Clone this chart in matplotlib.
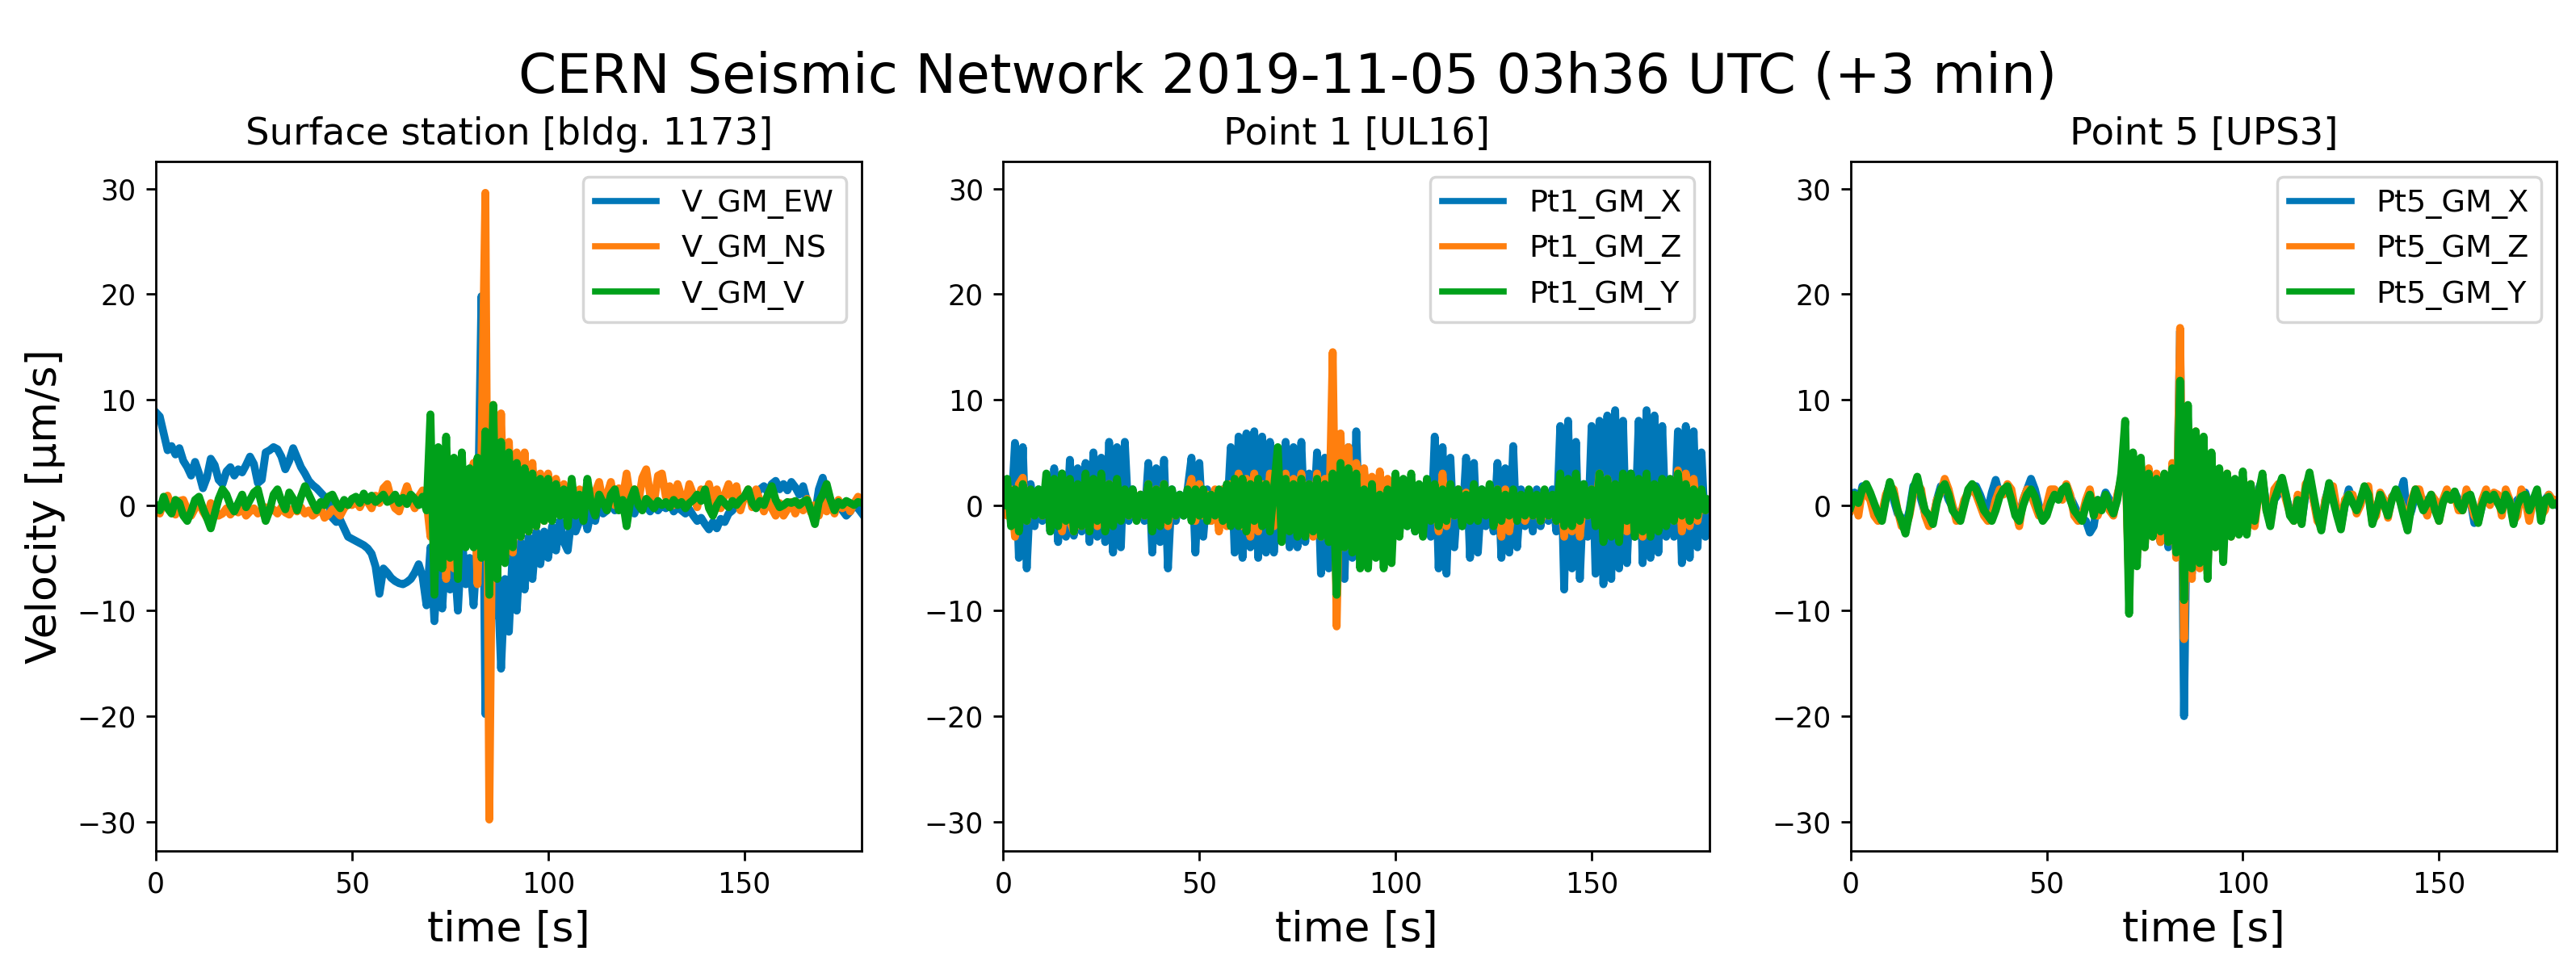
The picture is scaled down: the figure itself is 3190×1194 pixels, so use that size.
from matplotlib import pyplot as plt
from matplotlib.ticker import MultipleLocator
import numpy as np

# velocity samples [um/s], one value per second from t=0 to t=180 s
surf_ew = [
    8.8, 8.4, 6.8, 5.2, 5.6, 4.8, 5.4, 4.2, 3.6, 2.8,
    4.1, 3.0, 1.6, 2.6, 4.4, 3.8, 2.4, 2.0, 3.2, 3.6,
    2.8, 3.4, 3.1, 3.8, 4.6, 3.9, 2.1, 2.4, 5.0, 5.2,
    5.5, 5.3, 4.6, 3.4, 4.2, 5.4, 4.5, 3.6, 3.0, 2.3,
    1.9, 1.6, 1.2, 0.8, 0.2, -1.2, -1.6, -1.4, -2.2, -3.0,
    -3.2, -3.4, -3.6, -3.8, -4.1, -4.6, -5.8, -8.4, -6.0, -6.4,
    -6.9, -7.2, -7.4, -7.5, -7.3, -7.0, -6.4, -5.6, -6.8, -9.5,
    -4.0, -11.0, -5.0, -9.8, -3.5, -8.0, -4.5, -10.0, -3.0, -7.5,
    -5.0, -9.5, -3.5, 19.8, -19.8, 8.0, -10.5, -6.0, -15.5, -7.0,
    -12.0, -4.0, -10.0, -3.5, -8.0, -3.0, -7.0, -2.5, -5.6, -2.5,
    -5.0, -2.0, -4.3, -1.5, -3.5, -4.3, -1.0, -2.5, -1.5, -0.5,
    -2.3, -0.5, -1.5, 0.5, -0.8, -0.5, 0.3, -0.5, -0.3, 0.2,
    -0.5, 0.0, -0.8, 0.2, -0.4, 0.0, -0.6, 0.1, -0.5, 0.0,
    -0.3, 0.2, -0.6, -0.2, -0.5, -0.8, -0.4, -1.0, -1.5, -1.2,
    -1.8, -2.3, -1.6, -2.2, -1.3, -1.6, -0.8, -0.5, 0.2, 0.6,
    0.8, 1.2, 0.6, 1.0, 1.5, 1.8, 1.2, 2.0, 2.3, 1.5,
    2.0, 1.4, 2.2, 1.7, 1.0, 1.8, 0.4, -0.5, -1.0, 1.5,
    2.6, 1.0, 0.5, -0.2, 0.3, -0.5, -1.0, -0.6, 0.0, -0.3,
    -0.8]

surf_ns = [
    -0.5, -0.8, 0.3, 0.9, -0.2, -0.9, 0.4, 0.5, -0.4, -1.0,
    -0.3, 0.4, -0.6, -1.2, 0.2, -0.5, -1.0, -0.8, -0.3, -0.9,
    -0.4, -0.7, -0.2, -1.0, -0.6, -0.3, -0.8, -0.5, -0.2, -0.6,
    -0.4, -0.8, -0.2, -0.7, -0.9, -0.3, -0.6, -0.2, -0.8, -0.5,
    -1.0, -0.7, -0.2, -1.2, -0.9, -0.4, -0.6, -1.0, -0.3, 0.2,
    0.0, 0.4, -0.2, 0.6, 0.3, -0.3, 0.9, 0.2, 1.6, 2.0,
    0.6, -0.3, -0.6, 0.7, 1.8, 0.6, -0.3, 0.8, 1.4, 0.4,
    -3.0, 4.5, -5.0, 3.0, -7.0, 2.0, -6.0, 4.0, -2.0, 3.0,
    -3.0, 4.0, -7.5, 5.0, 29.6, -29.8, 9.5, -6.0, 8.7, -5.0,
    6.0, -4.5, 5.0, -3.0, 5.0, -2.5, 4.0, -2.0, 3.0, -1.5,
    3.0, -1.0, 2.5, 0.0, 2.0, 0.5, 1.8, -0.3, 1.5, 0.5,
    2.0, 0.3, 1.2, 2.2, 0.2, 1.0, 2.2, 0.0, 1.6, 0.6,
    3.0, 0.5, 1.5, 0.2, 2.6, 3.4, 1.0, 0.3, 2.8, 3.0,
    0.8, 1.8, 0.0, 2.0, 0.8, 0.2, 2.0, 1.0, -0.2, 1.5,
    0.6, 2.0, 0.2, 1.5, -0.3, 1.0, 2.0, 0.5, 1.8, -0.5,
    0.8, 1.5, -0.2, 1.5, 0.4, -0.6, 0.5, -0.3, -1.0, 0.2,
    -1.0, -0.4, 0.3, -0.8, 0.2, -0.5, 0.6, -0.7, 0.0, -1.0,
    0.4, -0.6, 0.2, -0.8, 0.5, -0.3, 0.3, -0.6, 0.2, 0.8,
    0.5]

surf_v = [
    0.0, -0.5, 0.8, -0.3, -0.8, 0.5, 0.2, -1.0, -1.5, -0.6,
    0.5, 0.8, -0.3, -1.2, -2.2, -0.8, 0.6, 1.5, 1.0, 0.0,
    -0.6, 0.2, 1.0, -0.2, 0.5, 1.2, 1.5, 0.0, -1.5, -0.5,
    1.0, 1.5, 0.4, -0.4, 1.2, 0.6, -0.5, 0.8, 1.8, 1.0,
    0.2, -0.5, 0.3, 0.0, 0.8, 1.0, 0.2, -0.3, 0.5, 0.0,
    0.6, 0.8, 0.2, 1.1, 0.4, 0.9, 0.3, 0.6, 1.0, 0.3,
    0.5, 1.0, 0.2, 0.7, 0.1, 1.0, 0.6, 0.0, 0.8, -0.5,
    8.6, -8.5, 5.5, -6.0, 6.5, -5.0, 4.5, -7.0, 5.0, -4.0,
    3.5, -4.0, 4.5, -5.0, 7.0, -8.5, 9.5, -7.0, 6.0, -5.5,
    5.0, -4.0, 4.0, -3.0, 3.5, -2.5, 3.0, -2.0, 2.5, -1.5,
    2.5, -1.5, 2.0, -1.0, 1.5, -2.0, 2.5, -1.0, 1.0, -1.5,
    2.5, 0.0, -1.0, 1.0, 0.2, -0.5, 1.0, 1.5, -0.5, 0.5,
    -2.0, 0.5, 1.5, 0.0, -0.5, 0.6, 0.2, -0.3, 0.4, 0.0,
    0.3, -0.2, 0.5, 0.0, 0.3, -0.3, 0.2, 0.5, 1.0, 0.4,
    1.5, -0.3, -1.0, 0.0, 0.6, 0.2, -0.2, 0.4, 0.0, 0.5,
    0.8, 1.5, 0.2, -0.3, 0.4, 0.0, 1.0, 1.8, 0.5, -0.2,
    0.0, 0.3, 0.2, 0.4, 0.0, 0.3, 0.5, -0.5, -1.8, 0.3,
    1.0, 2.0, 0.5, -0.5, 0.3, 0.0, 0.4, 0.2, 0.0, 0.3,
    0.2]

pt1_x = [
    -0.5, 1.0, -1.0, 5.9, -5.0, 5.5, -6.0, 2.0, -2.0, 1.5,
    -1.5, 2.0, -2.5, 3.5, -3.5, 3.0, -3.0, 4.3, -2.9, 3.5,
    -2.5, 4.0, -3.5, 5.0, -3.0, 4.5, -3.5, 6.0, -4.5, 5.5,
    -4.0, 6.0, -1.5, 1.5, -1.0, 1.0, -1.5, 4.0, -4.5, 3.5,
    -3.5, 4.3, -6.0, 1.5, -1.5, 1.0, -1.0, 1.5, 4.5, -4.5,
    4.0, -3.0, 1.5, -1.5, 1.0, -1.0, 1.5, -1.5, 5.5, -4.5,
    6.5, -5.0, 6.8, -4.0, 7.0, -5.0, 6.5, -4.5, 6.0, -4.5,
    2.0, -2.0, 6.0, -4.0, 5.5, -4.0, 6.0, -3.5, 3.0, -2.0,
    5.0, -6.5, 4.5, -6.0, 7.5, -5.5, 6.0, -7.0, 5.5, -5.0,
    7.0, -4.0, 3.0, -3.0, 2.0, -2.5, 1.5, -2.0, 1.0, -3.0,
    1.0, -2.5, 1.5, -2.0, 1.0, -2.5, 1.5, -1.5, 2.0, -3.0,
    6.5, -6.0, 5.5, -6.5, 4.5, -4.0, 1.5, -2.0, 4.5, -5.0,
    4.0, -4.5, 1.5, -2.0, 1.0, -2.5, 4.0, -5.0, 3.5, -4.5,
    5.6, -4.0, 1.5, -2.0, 1.0, -2.5, 1.5, -2.0, 1.0, -1.5,
    1.5, -2.5, 7.5, -8.0, 8.0, -6.0, 6.0, -7.0, 2.0, -3.0,
    7.5, -6.5, 8.0, -7.5, 8.5, -7.0, 9.0, -6.0, 8.0, -5.5,
    3.0, -3.0, 8.0, -5.5, 9.0, -5.0, 8.5, -4.5, 7.5, -3.0,
    1.5, -3.0, 7.0, -5.5, 7.5, -5.0, 7.0, -4.0, 5.0, -3.0,
    0.0]

pt1_z = [
    0.5, -1.0, 1.5, -3.0, 2.0, 2.6, -1.5, 0.5, -0.5, 1.0,
    -1.0, 0.5, 2.0, -1.5, 1.5, -2.5, 0.5, -1.5, -2.5, -1.0,
    -2.0, -0.5, -1.8, 1.0, -2.0, 1.5, -0.5, 2.0, -1.0, 1.5,
    -0.5, 1.0, -1.0, 0.5, -0.8, 1.0, -1.0, 2.0, -2.0, 1.5,
    -1.5, 2.0, -2.0, 1.0, -1.0, 0.5, -0.5, 1.0, 2.5, -1.5,
    2.0, -1.0, 1.0, -1.5, 1.5, -2.5, 1.5, -2.0, 2.0, -1.5,
    3.0, -2.0, 2.5, -3.0, 3.0, -2.5, 2.0, -1.5, 3.0, -2.0,
    3.0, -2.5, 3.0, -1.5, 2.5, -2.0, 3.0, -2.5, 2.0, -3.0,
    3.0, -3.0, 2.5, -3.0, 14.5, -11.5, 6.8, -4.0, 5.5, -3.5,
    4.0, -2.0, 3.5, -1.0, 2.7, -1.5, 3.2, -1.0, 2.5, -0.5,
    2.0, -0.5, 1.0, -0.5, 1.0, 0.0, -0.5, 1.0, 0.5, -1.0,
    1.5, -2.5, 3.0, -2.0, 1.5, -1.0, 1.5, 0.0, 1.2, -0.5,
    1.0, -1.0, 1.0, -0.5, 0.5, -1.0, 1.5, -3.0, 1.5, -2.5,
    0.5, -1.0, 0.0, -1.5, -0.5, -1.0, 0.0, -1.5, -0.5, -1.0,
    0.5, -1.5, 2.0, -3.0, 1.5, -2.5, 2.0, -3.0, 1.0, -1.0,
    1.5, -0.5, 3.0, -1.0, 2.5, -1.5, 0.5, -3.0, -0.5, -2.5,
    0.5, -1.0, 1.0, -3.0, 0.5, -2.5, 1.0, -2.0, 0.5, -1.0,
    1.5, -1.5, 3.3, -2.5, 3.0, -2.0, 2.5, -1.5, 1.0, -0.5,
    0.0]

pt1_y = [
    0.0, 2.5, -2.0, 1.5, -2.5, 2.0, -1.5, 1.5, -1.0, 1.5,
    -1.0, 3.0, -2.5, 2.5, -2.0, 3.0, -1.5, 2.5, -2.5, 2.0,
    -2.0, 3.0, -2.5, 2.5, -1.5, 3.0, -2.5, 2.0, -2.0, 2.5,
    -1.5, 1.5, -1.0, 1.5, -1.5, 1.0, -1.0, 2.0, -2.5, 1.5,
    -2.0, 2.0, -1.5, 1.5, -1.0, 1.0, -1.0, 1.5, -1.5, 1.5,
    -1.0, 1.5, -1.5, 1.0, -1.0, 1.5, -1.5, 2.0, -2.0, 2.5,
    -2.0, 2.5, -2.5, 2.0, -1.5, 2.5, -2.0, 2.0, -2.5, 1.5,
    5.5, -3.5, 2.5, -2.5, 2.0, -3.0, 2.5, -3.0, 2.0, -2.5,
    2.5, -3.0, 2.0, -3.5, 3.0, -8.5, 4.0, -4.0, 3.5, -4.5,
    3.0, -6.0, 1.5, -6.0, 2.0, -5.0, 1.0, -6.0, 1.5, -5.5,
    3.0, -3.0, 2.5, -2.0, 3.0, -2.5, 2.0, -3.0, 2.5, -1.5,
    2.0, -2.0, 1.5, -1.5, 2.0, -1.0, 1.5, -2.0, 1.0, -1.5,
    2.0, -1.5, 1.5, -1.0, 2.0, -2.0, 1.5, -1.5, 1.0, -1.0,
    1.5, -1.5, 1.0, -1.0, 1.5, -1.0, 1.0, -1.5, 1.5, -1.0,
    1.0, -1.5, 3.0, -2.0, 2.5, -2.0, 3.0, -1.5, 2.0, -1.0,
    1.5, -2.0, 3.0, -3.5, 2.5, -3.0, 2.0, -3.5, 3.0, -1.5,
    3.0, -3.0, 2.5, -2.5, 3.0, -3.0, 2.0, -2.5, 2.5, -2.0,
    2.5, -1.5, 3.0, -1.0, 2.0, -1.5, 1.5, -1.0, 1.5, -0.5,
    0.5]

pt5_x = [
    0.2, 1.2, 0.0, 1.8, 1.5, 0.8, -0.5, -1.0, -1.2, 0.8,
    2.0, 0.5, -0.8, -1.2, -2.0, -0.5, 1.8, 2.2, 0.5, -0.8,
    -1.2, -1.5, 0.5, 1.8, 1.6, 0.5, -0.2, -0.8, -1.2, 0.3,
    1.2, 1.8, 1.8, 1.0, 0.0, -0.5, 1.2, 2.4, 1.0, 1.2,
    1.5, 1.0, -0.5, -1.0, 0.5, 1.5, 2.5, 1.5, 0.0, -1.0,
    -0.8, 0.5, 1.2, 0.8, 1.2, 1.5, 0.8, 0.0, -0.8, -1.2,
    -1.5, -2.6, -2.0, 0.5, 0.0, 1.2, 0.5, -0.5, 0.8, 2.5,
    6.0, -7.5, 4.0, -4.5, 3.5, -3.5, 2.5, -2.5, 2.0, -3.5,
    2.5, -4.0, 3.0, -4.0, 16.5, -20.0, 7.2, -6.5, 6.5, -5.0,
    5.5, -6.0, 4.0, -3.5, 3.0, -4.0, 2.5, -2.5, 2.0, -2.5,
    2.5, -2.0, 1.5, -1.0, 1.5, 2.5, 0.0, -1.5, 0.5, 1.0,
    2.0, 0.8, -0.5, -1.0, 0.5, -1.5, 1.0, 2.5, 0.5, -1.0,
    -2.0, 0.5, 1.8, 0.5, -0.5, -2.0, 0.0, 1.5, 0.5, -0.5,
    0.5, 1.5, 1.2, -1.5, -0.5, 0.8, 0.5, -0.8, 0.8, 1.2,
    1.0, 2.3, -1.5, -0.5, 1.0, 0.5, 0.0, 0.5, 0.8, -0.5,
    -1.0, 0.5, 1.0, 0.8, 1.2, 0.5, 0.0, 1.0, 0.5, -1.7,
    -1.5, 0.0, 1.2, 0.8, 0.5, 0.5, -0.5, 0.8, 0.5, -1.5,
    0.5, 0.8, 1.2, 0.0, 0.5, 1.2, -1.0, 0.5, 1.0, 0.2,
    0.0]

pt5_z = [
    -0.5, 0.5, -1.0, 1.5, 1.0, 0.5, -1.0, -1.5, -0.8, 1.0,
    1.8, 1.5, -0.5, -2.0, -2.2, -1.0, 1.0, 2.0, 1.5, -1.0,
    -2.0, -1.2, 0.5, 1.2, 2.5, 1.5, 0.0, -1.5, -1.0, 0.5,
    1.2, 1.5, 1.0, 0.0, -1.0, -1.5, -1.0, 0.5, 1.5, 1.0,
    2.0, 1.5, -0.5, -2.0, 0.5, 1.5, 1.0, 0.0, -1.0, -1.0,
    0.0, 1.5, 1.5, 1.0, 0.5, 2.0, 1.0, -1.0, -1.5, -1.0,
    0.5, 1.5, -0.5, -1.0, 0.0, 0.5, -0.5, -1.0, 1.0, 2.5,
    5.0, -8.0, 4.5, -5.0, 4.0, -4.0, 3.5, -3.0, 3.0, -3.5,
    2.5, -3.5, 4.0, -5.0, 16.8, -12.7, 7.0, -7.0, 7.0, -6.0,
    6.0, -6.5, 4.5, -4.0, 3.0, -4.5, 3.0, -3.0, 2.0, -2.0,
    2.5, -2.5, 2.0, -2.0, 1.0, 2.5, -0.5, -1.5, 1.5, 2.0,
    2.0, 0.5, -0.8, -1.5, 1.0, -1.5, 2.0, 2.5, 0.5, -1.5,
    -2.0, 0.5, 1.5, 1.8, -0.5, -2.0, 0.5, 1.0, 1.0, -0.8,
    0.0, 1.5, 1.8, -1.5, -1.0, 1.2, 0.5, -1.2, 0.8, 1.0,
    0.5, -0.5, -2.0, 0.5, 1.5, 1.5, 0.0, -1.0, 1.0, 0.5,
    -1.5, 0.5, 1.5, 0.5, 1.0, -0.5, -0.5, 1.5, 0.5, -1.0,
    -1.5, 0.5, 1.5, 0.0, 1.2, 1.0, -1.0, 1.5, 0.5, -1.5,
    -1.0, 1.5, 0.5, -1.5, 0.5, 1.0, -1.0, -0.5, 1.0, 0.5,
    0.5]

pt5_y = [
    -0.2, 1.0, 0.2, 1.5, 2.0, 1.2, 0.2, -0.8, -1.5, 0.5,
    2.2, 1.0, -0.5, -1.5, -2.7, -0.8, 1.5, 2.7, 1.0, -0.5,
    -1.0, -1.8, 0.2, 1.5, 2.0, 1.0, -0.5, -1.0, -1.5, 0.0,
    1.5, 2.0, 1.5, 0.5, -0.5, -1.0, -1.5, -0.5, 0.8, 1.5,
    1.8, 0.5, -1.0, -1.5, 0.0, 1.0, 1.5, 0.8, -0.5, -1.5,
    -1.0, 0.2, 1.0, 0.5, 1.5, 1.8, 0.5, -0.5, -1.0, -1.5,
    0.0, 1.0, -1.0, 0.5, -0.5, 1.0, 0.0, -0.8, 0.5, 3.0,
    8.0, -10.3, 5.0, -5.8, 4.5, -4.0, 3.0, -3.0, 2.5, -2.5,
    3.0, -3.5, 3.5, -4.5, 11.8, -9.0, 9.5, -6.0, 7.0, -5.5,
    6.5, -7.0, 5.0, -4.0, 3.5, -5.4, 3.0, -3.0, 2.5, -2.8,
    3.2, -2.8, 2.0, -1.5, 1.0, 3.0, -0.5, -2.0, 0.5, 1.5,
    2.6, 1.0, -1.0, -1.5, 0.5, -1.8, 1.5, 3.1, 1.0, -1.0,
    -2.4, 0.0, 2.1, 0.5, -1.0, -2.3, 0.0, 1.0, 0.2, -0.5,
    0.5, 1.8, 1.0, -1.8, -0.5, 1.0, 0.0, -1.0, 0.5, 1.5,
    0.5, -1.0, -2.4, 0.0, 1.5, 0.5, -0.5, 0.2, 1.0, -0.5,
    -1.5, 0.2, 1.0, 0.5, 1.3, 0.0, -0.5, 0.8, 1.0, -0.3,
    -1.7, 0.0, 1.0, 0.5, 1.0, 0.2, -0.5, 1.0, 0.3, -1.8,
    0.0, 0.8, 1.0, -0.5, 0.5, 1.5, -1.5, 0.5, 0.8, 0.0,
    0.2]

titles = ["Surface station [bldg. 1173]", "Point 1 [UL16]", "Point 5 [UPS3]"]
stations = [
    [("V_GM_EW", surf_ew), ("V_GM_NS", surf_ns), ("V_GM_V", surf_v)],
    [("Pt1_GM_X", pt1_x), ("Pt1_GM_Z", pt1_z), ("Pt1_GM_Y", pt1_y)],
    [("Pt5_GM_X", pt5_x), ("Pt5_GM_Z", pt5_z), ("Pt5_GM_Y", pt5_y)],
]
colors = ["#0077b8", "#ff7f0e", "#00a01a"]

fig, axes = plt.subplots(1, 3, figsize=(12.76, 4.776), dpi=250, sharey=True)
fig.subplots_adjust(left=0.0605, right=0.9925, top=0.8325, bottom=0.1173, wspace=0.2)

for ax, title, traces in zip(axes, titles, stations):
    for (name, vals), col in zip(traces, colors):
        t = np.arange(len(vals))
        ax.plot(t, vals, color=col, lw=2.8, label=name)
    ax.set_xlim(0, 180)
    ax.xaxis.set_major_locator(MultipleLocator(50))
    ax.set_title(title, fontsize=13.4)
    ax.set_xlabel("time [s]", fontsize=15)
    ax.yaxis.set_tick_params(labelleft=True)
    leg = ax.legend(loc="upper right", fontsize=11)
    for line in leg.get_lines():
        line.set_linewidth(2.2)

axes[0].set_ylabel("Velocity [µm/s]", fontsize=15)
fig.suptitle("CERN Seismic Network 2019-11-05 03h36 UTC (+3 min)", fontsize=19.5, y=0.92, va="center")

fig.savefig("out.png", dpi=250)
